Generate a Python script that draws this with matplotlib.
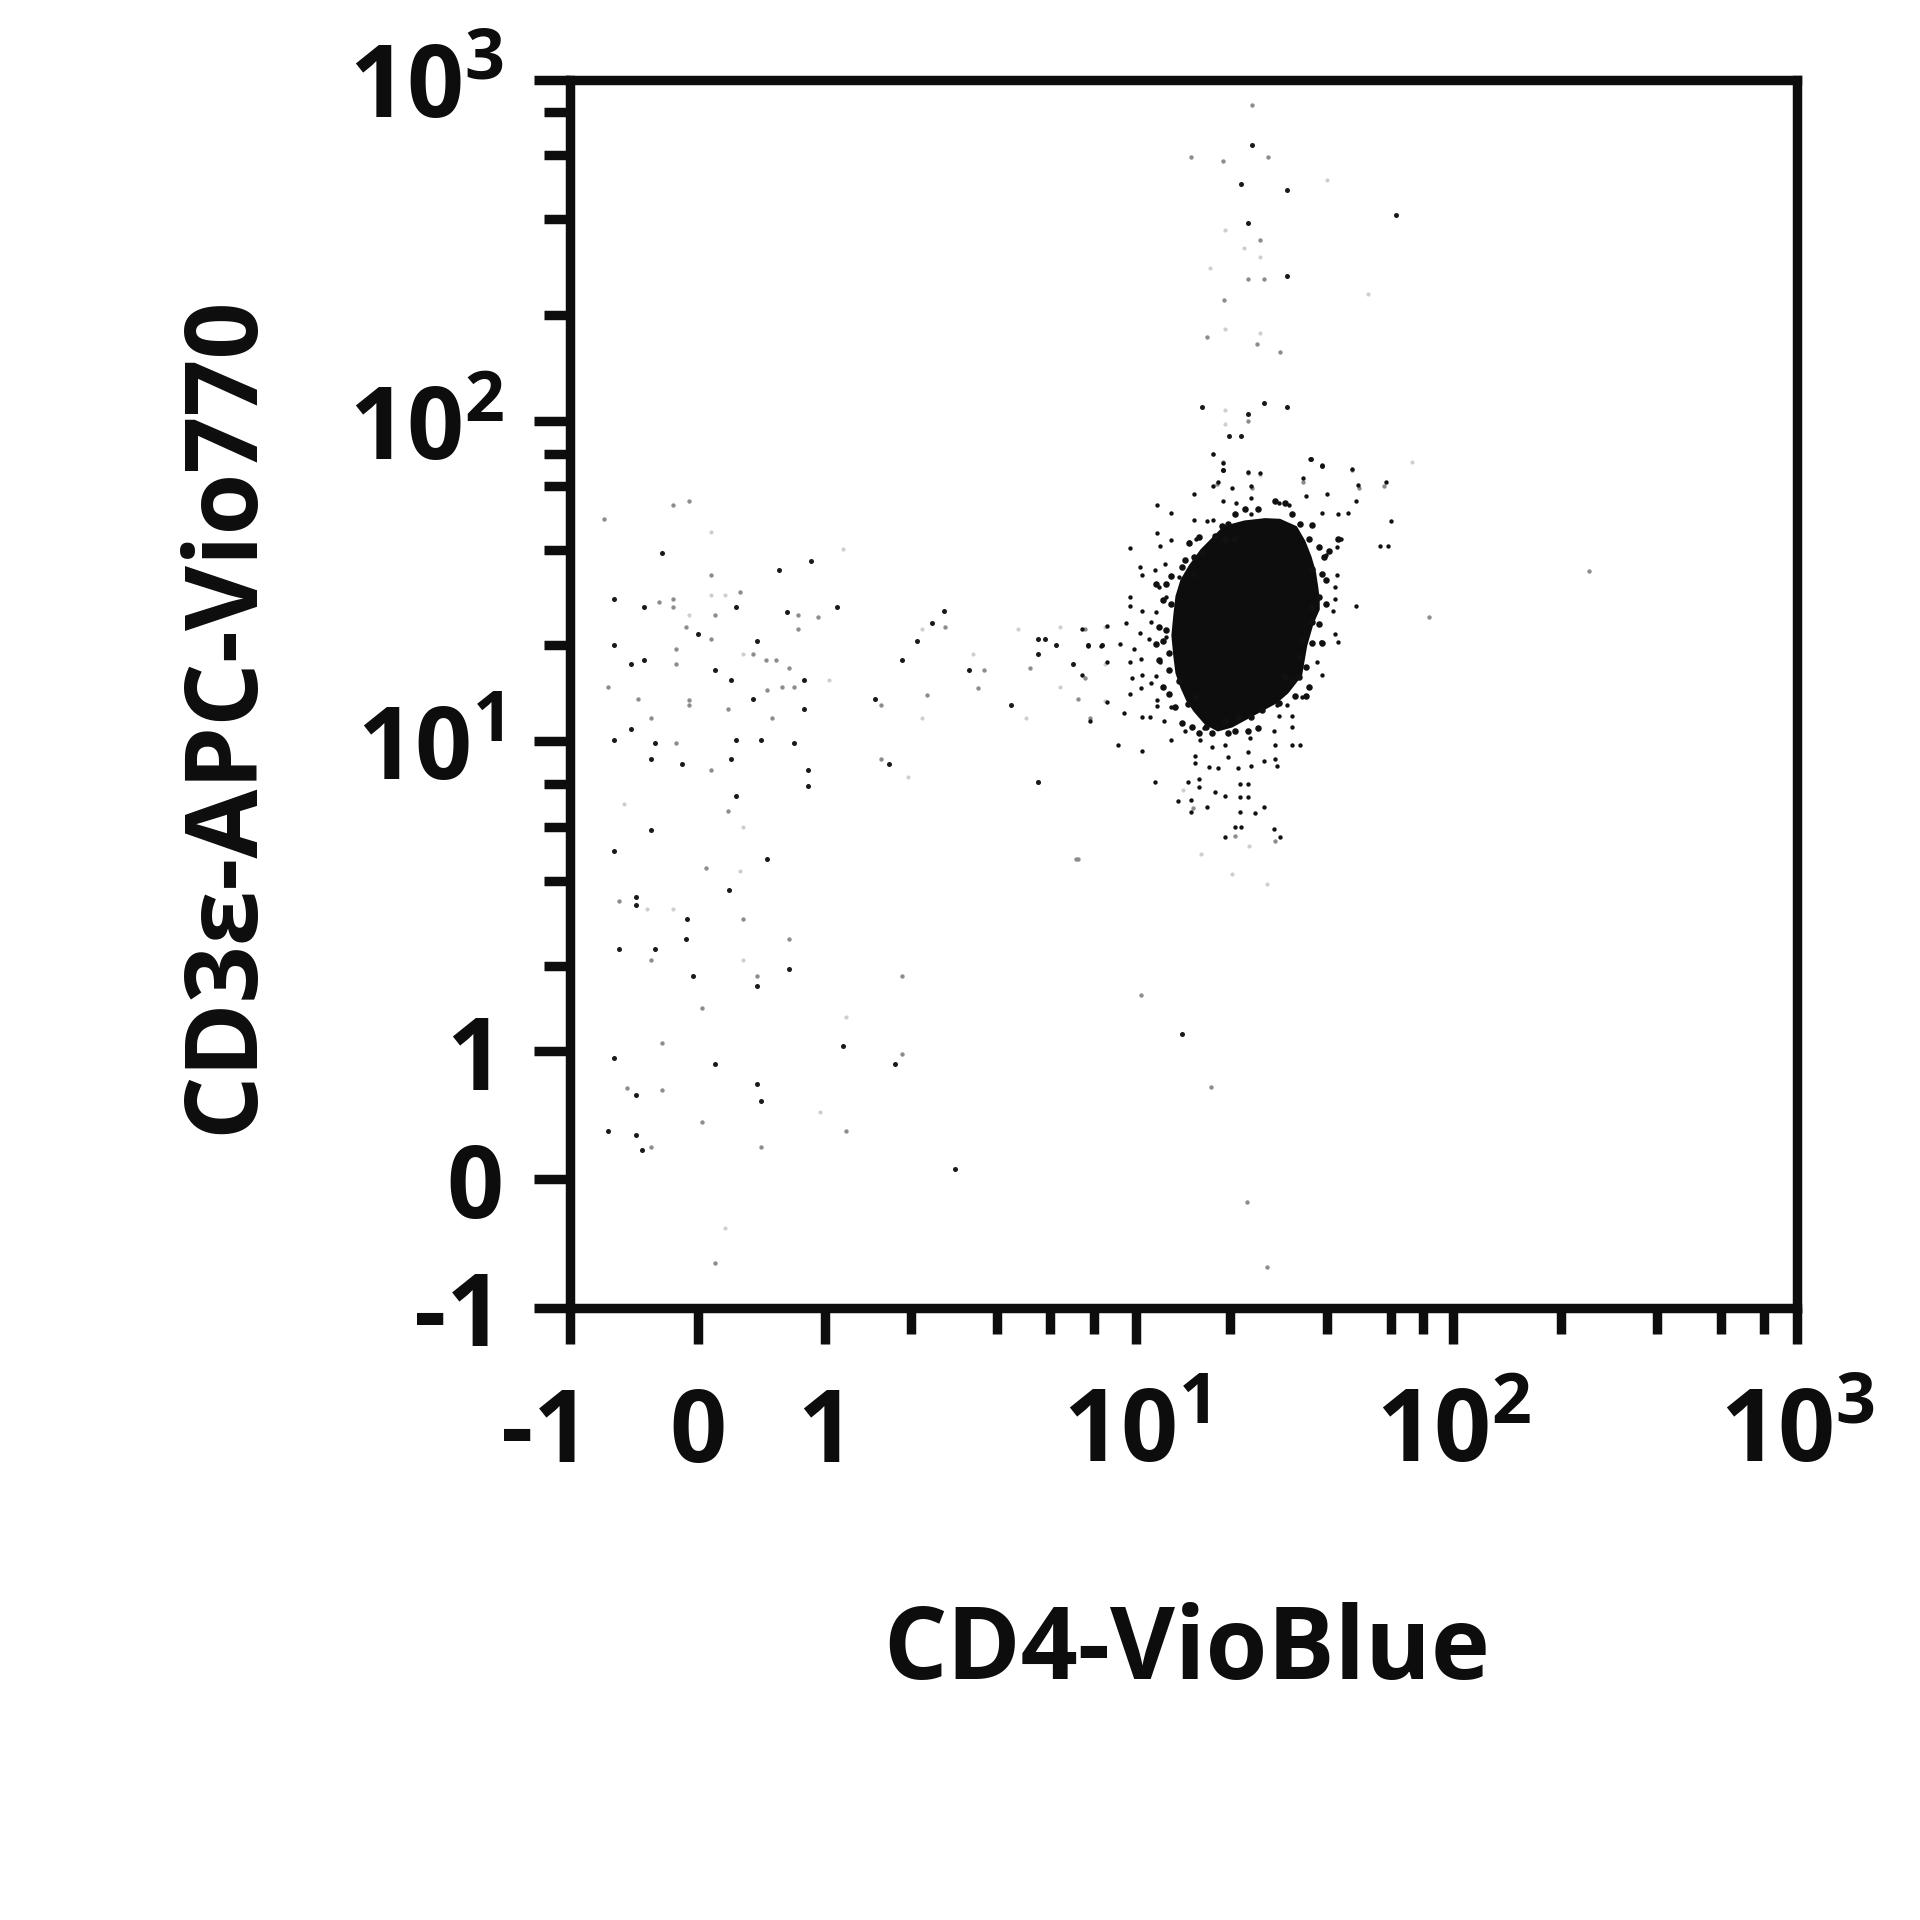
import numpy as np
import matplotlib
matplotlib.use("Agg")
import matplotlib.pyplot as plt
from matplotlib.transforms import ScaledTranslation

INK = "#0d0d0d"
FONT = "Open Sans"
plt.rcParams["font.family"] = [FONT, "DejaVu Sans"]
plt.rcParams["font.weight"] = "bold"
plt.rcParams["mathtext.fontset"] = "custom"
plt.rcParams["mathtext.rm"] = f"{FONT}:bold"
plt.rcParams["mathtext.default"] = "rm"

x_label = "CD4-VioBlue"
y_label = "CD3ε-APC-Vio770"
major_ticks = [-1, 0, 1, 10, 100, 1000]
minor_ticks = [2, 4, 6, 8, 20, 40, 60, 80, 200, 400, 600, 800]
major_labels = ["-1", "0", "1", r"$10^{1}$", r"$10^{2}$", r"$10^{3}$"]

# outline of the saturated main population (CD4, CD3e)
core_outline = [(25.7,48.2),(22.2,47.5),(19.2,45.9),(17.6,42.5),(16.3,39.7),(15,35.5),(14.1,32),(13.6,28.5),
                (13.4,25.1),(13.2,21.5),(13.4,18.4),(13.6,16.4),(14.1,14.8),(14.7,13.5),(15.5,12.5),(16.8,11.4),
                (18.3,10.9),(20.2,11.2),(22.2,11.8),(25,12.6),(27.6,13.3),(30,14.3),(33,16.2),(34.2,20),
                (35.8,23.5),(37.4,26),(37.4,28),(37,30.5),(36.4,34),(35.3,37.8),(33.8,42),(31.9,45.9),(28.5,48)]

# events hugging the edge of the main population
ring_events = [(19.7,47),(20.7,50),(22.2,51.8),(24.5,51.8),(27.6,54.3),(29.7,53.7),(31.2,50),(33,47.2),(36,46.7),(35.1,42.7),
    (37.8,40.6),(40.6,39.6),(43,42.7),(39.1,37.9),(36,34.8),(38.7,33.6),(39.6,32),(37.8,28.3),(39.6,27),(36,26.4),(36,23.7),
    (37.8,23.4),(33.4,20.7),(36,20.4),(38.7,20.4),(33,18.4),(34.3,17.1),(31.2,15.5),(32.7,15.9),(29.7,15.9),(35.1,14.8),(31.9,13.9),
    (34.3,13.9),(28.3,13.2),(25.1,12.5),(23.3,11.9),(21.2,11.9),(19.2,11.6),(20.7,10.8),(22.8,10.8),(24.5,11),(19.7,10.6),(16.7,11.1),
    (15.1,11.1),(14.1,11.4),(17.5,10.6),(15.9,10.6),(13.4,12.8),(14.7,13.1),(15.5,13.8),(12.8,14.1),(12.2,14.8),(13.7,15.5),(12.8,16.8),
    (11.9,18),(12.8,18.9),(12.2,20.7),(11.6,20.2),(12.5,22.3),(11.9,22.8),(13,27),(12.2,27.7),(11.6,31.2),(12.5,31.2),(13,33),(14.1,35.2),
    (14.4,37),(15.3,37.9),(16.3,38.9),(14.8,41.8),(15.9,43.2),(17.9,43.7),(19.2,42.7),(20.5,42.7),(18.8,46.4)]

# events scattered close around the main population
halo_events = [(17.7,80),(19,73.3),(19,69.4),(35.5,76.5),(38.5,72),(46.8,70),(22.8,68),(33.6,64.5),(24.8,67),
    (23.3,59.8),(17.6,59.8),(18.3,62.3),(20.2,59),(15.4,57),(34.3,56.3),(39.9,57),(48.6,60.4),(58,62),(11.7,53),
    (19,54.3),(20.9,53.7),(23.3,55.5),(28.3,53.7),(30.4,53),(48,54.3),(13,50.3),(15.3,48.4),(16.9,47.9),(17.7,48.4),
    (38.7,50.3),(43,50),(45.8,50.3),(60,47.9),(23.3,50),(11.7,44.5),(13,42.5),(15.6,42.9),(12,41),(14.8,42.1),
    (56,41),(59,41),(9.7,40.4),(43.6,42.7),(42.5,40.7),(39.6,38.4),(12.4,36),(11.5,34.6),(10.3,35.3),(10.5,33.3),
    (13.7,32.8),(15.3,33.2),(42.5,33.2),(42,30.5),(42,28),(9.7,28.3),(9.7,26.6),(10.5,25.7),(48,26.6),(41.5,25.7),
    (11.9,30.5),(12.5,28.3),(11.6,25.4),(11.2,23.7),(9.5,23.5),(8.6,23),(7.4,22.6),(7.7,19.9),(8.3,19.9),(9.2,20.2),
    (9.9,19.5),(11,21),(10.3,21.9),(12.5,21.3),(42,21.8),(43,20.5),(38.3,20.5),(10.4,18.2),(9.7,17.7),(8.6,17.7),
    (12,17.8),(37.2,17.7),(7.4,16.2),(9.8,15.8),(11.6,16),(10.5,16.1),(11.2,15.2),(38.7,16.2),(35.1,14.8),(9.7,14.1),
    (10.4,14.7),(12.8,14.1),(11.7,13.5),(11.7,12.9),(13,12.8),(8.6,13.3),(9.4,12.3),(10.5,11.9),(11.1,11.9),(7.8,11.6),
    (12.3,11.6),(33.4,13.8),(28,13),(30,13),(31.2,12),(28.3,12),(31.2,11.1),(27.3,10.8),(14.4,10.8),(16.5,11),(13,10.1),
    (16,10.1),(19.2,9.8),(23,10.2),(9.1,9.8),(10.5,9.5),(27.6,9.8),(31.2,9.8),(33,9.8),(17.5,9.7),(15.5,9.27),(15.5,8.95),
    (19.7,9.2),(22.8,9.45),(25.4,9),(27.6,9.1),(17.1,8.75),(18.3,8.7),(21.2,8.7),(23.3,8.8),(28,8.8),(11.5,8.1),(14.7,8.1),
    (15.9,8.2),(15.9,7.85),(21.5,8),(22.8,8),(21.5,7.35),(22.8,7.35),(17.9,7.6),(19.2,7.4),(13.6,7.15),(15,7.2),(16.9,6.85),
    (25.4,6.85),(15,6.65),(21.5,6.65),(23.9,6.6),(21.6,6),(20.7,6),(27.3,5.9),(19.2,5.55),(28.6,5.55)]

# isolated events, by how dark they print
dark_events = [(-.38,26.5),(.27,26.5),(1.11,26.5),(2.63,25.6),(2.38,23.6),(2.11,20.6),(-.38,18),(-.48,17.5),(-.48,10.9),
    (-.61,10.1),(.27,10.1),(.45,10.1),(-.3,9.9),(.72,9.9),(-.11,8.9),(1.7,8.9),(.27,7.4),(-.33,5.85),(3.2,16.7),(4.45,13),
    (6.25,20),(7.7,20),(8.35,20),(-.61,28),(-.61,20),(0,21.8),(.12,16.7),(.87,36.7),(.66,25.5),(.8,15.6),(.8,12.6),(1.52,13.6),
    (1.87,18),(-.07,2.95),(-.57,2.3),(-.3,2.3),(-.03,1.85),(.22,3.7),(.67,1.95),(-.44,3.5),(-.44,3.3),(5.5,21),(5.8,21),(7,17.5),
    (5.5,18.8),(.39,13.6),(-.25,38.9),(.59,34.4),(-.33,9.1),(.23,9.1),(.84,8.6),(.84,7.9),(-.61,5),(.5,4.7),(-.08,2.5),(.42,20.6),
    (.42,1.72),(5.5,8.1),(.23,15.6),(1.17,1.05),(-.61,.93),(1.78,.88),(.12,.88),(.42,.7),(-.44,.61),(.45,.56),(-.66,.34),(-.44,.31),
    (-.39,.2),(2.87,.07),(23.4,640),(21.6,500),(30,480),(63,410),(22.7,390),(30,265),(25.5,113),(16.3,110),(30,110),(22.7,105),
    (19.8,90.5),(21.6,90.5),(35.6,76),(38.5,71.5),(19,69),(14.1,1.17)]
mid_events = [(-.06,54.5),(-.17,53),(-.69,48.5),(.09,33.2),(-.17,28),(-.17,26.5),(-.27,27.3),(.12,25),(.3,29.4),(.75,25),(.93,24.5),
    (-.08,22.9),(.75,22.5),(.09,21),(2.65,22.9),(-.15,19.5),(-.15,17.5),(.39,18.8),(.49,18),(.57,18),(.67,17),(-.66,14.8),(-.42,13.6),
    (-.06,13.5),(-.06,13),(.21,12.6),(.5,14.5),(.62,14.8),(.72,14.8),(.54,11.8),(-.33,11.8),(-.15,9.9),(.09,8.6),(1.6,13),(2.28,14),
    (3.62,16.7),(3.45,14.7),(5.14,17),(7.8,11.8),(7.2,13.6),(7.55,22.5),(7.55,15.8),(-.57,3.4),(.21,6.7),(.06,4.4),(.32,2.95),(.67,2.5),
    (.42,1.85),(-.33,2.1),(1.6,9.1),(7.2,4.7),(1.87,1.85),(.03,1.45),(-.25,1.08),(1.87,.97),(-.51,.67),(-.25,.65),(.03,.4),(1.2,.34),
    (-.33,.22),(.45,.22),(.12,-.61),(23.4,840),(15,590),(19,575),(26.3,590),(24.8,343),(22.7,259),(25.5,259),(19.1,223),(16.9,173),
    (24.2,165),(28.6,157),(22.7,100),(17.7,80),(47,69),(19,74),(22.7,67),(33.6,62),(18.2,61),(49,59),(57.5,60),(23.4,59),(245,34.3),
    (83.5,24.6),(10.4,1.6),(17.4,.68),(22.6,-.16),(26,-.64),(7.1,4.7),(5.5,8.1),(20.7,5.6),(27.5,5.4),(15.2,6.8)]
faint_events = [(.09,44.7),(1.17,40.2),(.09,28.9),(.19,28.9),(-.06,25),(2.2,22.5),(.32,18.8),(1.04,15.6),(4.7,22.5),(6.4,22.9),(8.5,22.9),
    (3.3,18.8),(6.4,14.8),(8.5,13.4),(5,11.8),(2.2,11.8),(1.95,8.3),(-.53,7),(.32,6),(.3,4.3),(-.36,3.2),(-.17,3.2),(.32,2.1),(8.5,17.5),
    (1.2,1.35),(.95,.48),(.19,-.34),(40,510),(19.3,369),(22.1,325),(24.8,303),(17.2,280),(52,232),(19.3,183),(24.8,178),(19.3,108),(19.3,98),
    (72.6,74),(24.8,66),(22.9,5.2),(20.3,4.2),(26.1,3.9),(16.1,4.9),(14.2,7.7)]

# Biexponential-like display scale of the instrument: value -> share of the axis
x_scale_values = [-1, 0, 1, 2, 4, 6, 8, 10, 20, 40, 60, 80, 100, 200, 400, 600, 800, 1000]
x_scale_shares = [0, .104, .208, .278, .348, .391, .427, .461, .538, .617, .669, .695, .720, .808, .886, .938, .973, 1]
y_scale_values = x_scale_values
y_scale_shares = [0, .1046, .2088, .2784, .3477, .3912, .4262, .4612, .5391, .6172, .6692, .6953, .7215, .8083, .8864, .9388, .9737, 1]


def make_scale(values, shares):
    knots = np.arcsinh(np.asarray(values, float))
    shares = np.asarray(shares, float)
    forward = lambda v: np.interp(np.arcsinh(np.asarray(v, float)), knots, shares,
                                  left=-1, right=2)
    inverse = lambda s: np.sinh(np.interp(np.asarray(s, float), shares, knots))
    return forward, inverse


fig = plt.figure(figsize=(19.2, 19.2), dpi=100, facecolor="white")
ax = fig.add_axes([570 / 1920, 1 - 1307.5 / 1920, 1227 / 1920, 1228 / 1920])
ax.set_xscale("function", functions=make_scale(x_scale_values, x_scale_shares))
ax.set_yscale("function", functions=make_scale(y_scale_values, y_scale_shares))
ax.set_xlim(-1, 1000)
ax.set_ylim(-1, 1000)

ax.fill(*zip(*core_outline), color=INK, lw=3, zorder=2)
for events, size, shade in [(faint_events, 9, "#cfcfcf"), (mid_events, 10, "#8c8c8c"),
                            (dark_events, 13, "#1a1a1a"), (halo_events, 10, "#111111"),
                            (ring_events, 22, "#111111")]:
    ax.scatter(*zip(*events), s=size, color=shade, linewidths=0, zorder=3)

for side in ax.spines.values():
    side.set_linewidth(6.8)
    side.set_color(INK)

for axis in (ax.xaxis, ax.yaxis):
    axis.set_ticks(major_ticks, labels=major_labels)
    axis.set_ticks(minor_ticks, minor=True)
    axis.set_minor_formatter(matplotlib.ticker.NullFormatter())
ax.tick_params(axis="both", which="major", length=26, width=6.8, color=INK, labelcolor=INK, labelsize=72)
ax.tick_params(axis="both", which="minor", length=19, width=6.8, color=INK)
ax.tick_params(axis="x", which="major", pad=30)
ax.tick_params(axis="y", which="major", pad=22)

# the minus sign hangs to the left of the "-1" tick on the x axis
ax.get_xticklabels()[0].set_transform(
    ax.get_xticklabels()[0].get_transform() + ScaledTranslation(-24 / 100, 0, fig.dpi_scale_trans))
for lab in ax.get_yticklabels():
    lab.set_verticalalignment("center_baseline")

ax.set_xlabel(x_label, fontsize=72, color=INK, fontweight="bold")
ax.set_ylabel(y_label, fontsize=72, color=INK, fontweight="bold")
ax.xaxis.set_label_coords((1187 - 570) / 1227, -(1652 - 1307.5) / 1228, transform=ax.transAxes)
ax.xaxis.label.set_verticalalignment("center")
ax.yaxis.set_label_coords((226 - 570) / 1227, (1307.5 - 715) / 1228, transform=ax.transAxes)
ax.yaxis.label.set_verticalalignment("center")

fig.savefig("out.png", dpi=100, facecolor="white")
